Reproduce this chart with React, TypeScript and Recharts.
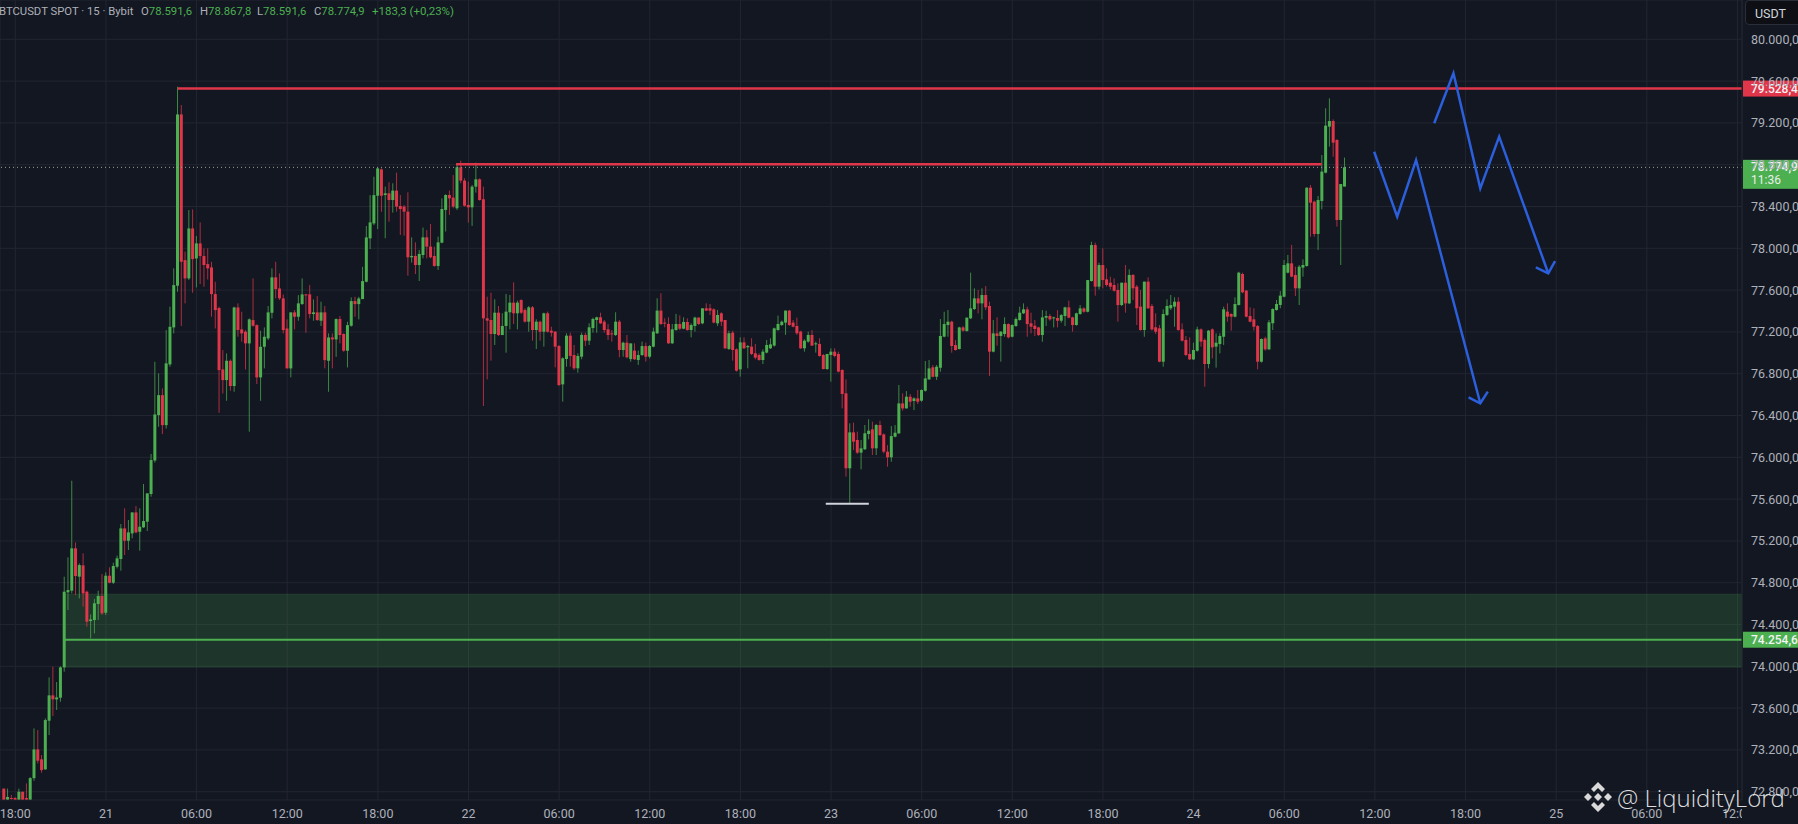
import React from 'react';
import {
  ComposedChart,
  Bar,
  Line,
  XAxis,
  YAxis,
  CartesianGrid,
  ReferenceLine,
  ReferenceArea,
} from 'recharts';

// 15 minute candles as [open, high, low, close]
const day20 = [
  [72830, 72830, 72725, 72725], [72725, 72830, 72725, 72750], [72740, 72770, 72725, 72735], [72740, 72750, 72725, 72725],
  [72725, 72830, 72725, 72800], [72800, 72800, 72725, 72725], [72740, 72880, 72725, 72725], [72725, 72940, 72725, 72930],
  [72930, 73406, 72905, 73205], [73205, 73390, 73071, 73097], [73110, 73151, 72982, 73007], [73014, 73502, 73010, 73486],
  [73480, 73894, 73342, 73722], [73722, 73996, 73524, 73684], [73684, 73850, 73582, 73703], [73700, 74000, 73661, 73990],
  [73990, 74858, 73949, 74714], [74708, 75043, 74539, 74730], [74724, 75776, 74698, 75129], [75129, 75186, 74682, 74864],
  [74858, 74985, 74650, 74969], [74966, 75081, 74571, 74698], [74714, 74724, 74379, 74427], [74433, 74497, 74268, 74449],
  [74443, 74644, 74315, 74603], [74596, 74724, 74443, 74673], [74673, 74883, 74491, 74507],
];

const day21 = [
  [74513, 74899, 74491, 74867], [74867, 74947, 74794, 74800], [74800, 74992, 74788, 74960], [74953, 75059, 74937, 75033],
  [75027, 75362, 74915, 75320], [75320, 75512, 75065, 75202], [75202, 75400, 75113, 75282], [75272, 75473, 75225, 75473],
  [75473, 75534, 75272, 75282], [75288, 75512, 75107, 75336], [75330, 75745, 75325, 75390], [75384, 75655, 75295, 75655],
  [75649, 76032, 75623, 75974], [75970, 76914, 75950, 76410], [76404, 76803, 76292, 76595], [76595, 76659, 76222, 76308],
  [76308, 77217, 76276, 76899], [76889, 77441, 76867, 77249], [77243, 77808, 77186, 77648], [77642, 79546, 77584, 79281],
  [79281, 79371, 77256, 77871], [77887, 77967, 77473, 77712], [77712, 78366, 77696, 78190], [78190, 78372, 77575, 77897],
  [77903, 78117, 77626, 78047], [78047, 78248, 77658, 77926], [77926, 77999, 77632, 77840], [77849, 77999, 77702, 77808],
  [77817, 77871, 77345, 77562], [77562, 77680, 77233, 77409], [77428, 77441, 76426, 76835], [76841, 77026, 76611, 76739],
  [76739, 76994, 76541, 76924], [76924, 76937, 76637, 76682], [76682, 77441, 76627, 77434], [77434, 77473, 77154, 77218],
  [77224, 77393, 77106, 77186], [77202, 77217, 76841, 77090], [77090, 77329, 76245, 77320], [77313, 77712, 77250, 77259],
  [77265, 77272, 76701, 76765], [76765, 77211, 76541, 77058], [77058, 77243, 76851, 77154], [77138, 77447, 77122, 77387],
  [77383, 77808, 77329, 77722], [77722, 77871, 77521, 77610], [77616, 77760, 77505, 77521], [77521, 77559, 77186, 77218],
  [77233, 77320, 76851, 76851], [76851, 77387, 76765, 77387], [77387, 77409, 77224, 77345], [77345, 77552, 77307, 77473],
  [77467, 77712, 77457, 77559], [77559, 77562, 77192, 77550], [77559, 77648, 77329, 77371], [77371, 77511, 77307, 77387],
  [77387, 77543, 77307, 77313], [77307, 77489, 77256, 77387], [77387, 77447, 76851, 76930], [76924, 77186, 76627, 77147],
  [77147, 77186, 76851, 77128], [77128, 77329, 76962, 77323], [77323, 77352, 77090, 77170], [77180, 77186, 77010, 77020],
  [77020, 77297, 76860, 77265], [77259, 77530, 77250, 77495], [77495, 77536, 77345, 77466], [77466, 77536, 77320, 77520],
  [77514, 77823, 77584, 77686], [77680, 78213, 77674, 78104], [78095, 78509, 77993, 78248], [78238, 78685, 78222, 78509],
  [78503, 78774, 78184, 78765], [78755, 78765, 78350, 78503], [78510, 78590, 78096, 78526], [78526, 78632, 78255, 78462],
  [78462, 78622, 78341, 78552], [78552, 78724, 78351, 78399], [78405, 78510, 78128, 78376], [78399, 78415, 78121, 78351],
  [78351, 78536, 77738, 77914], [77914, 78105, 77863, 77927], [77927, 78057, 77754, 77840], [77840, 77984, 77687, 77946],
  [77936, 78198, 77904, 78105], [78105, 78175, 77904, 78016], [78016, 78233, 77904, 77914], [77927, 78016, 77824, 77831],
  [77831, 78112, 77793, 78057], [78054, 78478, 78048, 78376], [78367, 78517, 78160, 78510], [78510, 78552, 78319, 78478],
  [78485, 78702, 78383, 78399], [78383, 78797, 78367, 78775], [78775, 78839, 78622, 78648], [78648, 78670, 78399, 78408],
];

const day22 = [
  [78415, 78638, 78246, 78392], [78392, 78606, 78214, 78590], [78590, 78820, 78533, 78660], [78660, 78670, 78456, 78462],
  [78469, 78590, 76491, 77330], [77330, 77537, 76746, 77308], [77314, 77576, 76925, 77180], [77180, 77512, 77075, 77384],
  [77384, 77448, 77161, 77170], [77170, 77378, 77170, 77257], [77257, 77563, 77001, 77394], [77388, 77553, 77225, 77480],
  [77480, 77675, 77276, 77378], [77378, 77499, 77225, 77480], [77505, 77512, 77371, 77384], [77410, 77426, 77289, 77298],
  [77298, 77448, 77202, 77435], [77435, 77448, 77116, 77218], [77218, 77320, 77037, 77298], [77298, 77308, 77116, 77202],
  [77202, 77384, 77059, 77378], [77378, 77394, 77193, 77202], [77212, 77250, 77155, 77193], [77202, 77209, 76861, 77059],
  [77065, 77075, 76682, 76692], [76698, 76957, 76533, 76947], [76941, 77186, 76867, 77164], [77164, 77193, 76867, 76970],
  [76979, 77075, 76836, 76852], [76852, 76995, 76810, 76970], [76963, 77193, 76938, 77171], [77171, 77193, 77065, 77116],
  [77116, 77282, 77075, 77244], [77237, 77336, 77193, 77324], [77314, 77346, 77193, 77340], [77340, 77384, 77276, 77282],
  [77298, 77314, 77193, 77218], [77225, 77276, 77123, 77170], [77186, 77218, 77107, 77180], [77170, 77388, 77161, 77298],
  [77298, 77314, 76957, 77027], [77027, 77107, 76963, 77097], [77097, 77171, 76947, 76957], [76940, 77090, 76915, 77090],
  [77021, 77091, 76931, 76938], [76931, 77021, 76884, 76979], [76979, 77107, 76970, 77065], [77065, 77097, 76915, 76963],
  [76963, 77075, 76947, 77065], [77059, 77241, 77053, 77203], [77187, 77522, 77180, 77404], [77404, 77569, 77266, 77276],
  [77289, 77330, 77244, 77282], [77276, 77340, 77085, 77091], [77091, 77276, 77085, 77225], [77218, 77372, 77212, 77276],
  [77276, 77359, 77218, 77231], [77231, 77340, 77225, 77295], [77295, 77330, 77212, 77218], [77218, 77282, 77148, 77266],
  [77257, 77346, 77203, 77337], [77337, 77340, 77266, 77276], [77282, 77426, 77273, 77426], [77426, 77474, 77400, 77404],
  [77426, 77467, 77362, 77404], [77416, 77426, 77282, 77289], [77282, 77410, 77257, 77362], [77378, 77388, 77257, 77298],
  [77314, 77314, 77037, 77043], [77037, 77212, 77027, 77187], [77193, 77212, 76925, 77027], [77033, 77043, 76820, 76829],
  [76842, 77148, 76772, 77100], [77100, 77148, 77037, 77043], [77053, 77075, 76852, 77065], [77059, 77139, 76979, 76989],
  [76995, 77085, 76938, 76954], [76979, 76995, 76925, 76931], [76931, 77033, 76893, 77011], [77002, 77123, 76995, 77075],
  [77043, 77139, 77037, 77081], [77069, 77241, 77059, 77234], [77218, 77356, 77212, 77276], [77266, 77308, 77257, 77298],
  [77289, 77404, 77171, 77404], [77404, 77410, 77257, 77266], [77289, 77314, 77244, 77250], [77257, 77337, 77171, 77187],
  [77203, 77212, 77037, 77043], [77043, 77129, 77011, 77116], [77107, 77203, 77097, 77171], [77171, 77218, 77065, 77069],
  [77081, 77107, 77002, 77091], [77085, 77139, 76963, 76970], [76979, 76989, 76842, 76845], [76845, 76989, 76836, 76989],
];

const day23 = [
  [76979, 77043, 76724, 77011], [77011, 77043, 76957, 76970], [76989, 77011, 76813, 76820], [76836, 76842, 76469, 76606],
  [76612, 76746, 75815, 75895], [75895, 76325, 75560, 76239], [76239, 76332, 76070, 76150], [76166, 76246, 76032, 76045],
  [76045, 76166, 75885, 76086], [76077, 76309, 76070, 76230], [76223, 76364, 76172, 76255], [76268, 76341, 76022, 76086],
  [76086, 76319, 76022, 76309], [76309, 76350, 76203, 76213], [76219, 76229, 76038, 76054], [76054, 76117, 75910, 76000],
  [76000, 76299, 75958, 76203], [76197, 76309, 76191, 76235], [76229, 76692, 76225, 76516], [76516, 76612, 76446, 76468],
  [76468, 76634, 76468, 76580], [76580, 76606, 76484, 76532], [76539, 76574, 76452, 76564], [76564, 76644, 76510, 76532],
  [76542, 76650, 76532, 76644], [76637, 76921, 76628, 76755], [76746, 76931, 76740, 76851], [76861, 76883, 76765, 76771],
  [76771, 76883, 76740, 76867], [76857, 77323, 76819, 77161], [77155, 77393, 77148, 77275], [77266, 77409, 77154, 77298],
  [77298, 77307, 77001, 77065], [77074, 77122, 77020, 77027], [77036, 77250, 77033, 77243], [77243, 77256, 77202, 77212],
  [77209, 77339, 77202, 77336], [77330, 77767, 77323, 77425], [77419, 77617, 77409, 77521], [77521, 77601, 77377, 77473],
  [77473, 77617, 77320, 77553], [77553, 77639, 77409, 77435], [77448, 77489, 76778, 77011], [77011, 77314, 77004, 77186],
  [77186, 77339, 77068, 77161], [77161, 77208, 76915, 77202], [77180, 77339, 77154, 77275], [77275, 77282, 77138, 77148],
  [77154, 77272, 77148, 77266], [77256, 77339, 77250, 77323], [77314, 77441, 77307, 77384], [77378, 77473, 77371, 77416],
  [77416, 77441, 77154, 77275], [77282, 77384, 77186, 77250], [77259, 77314, 77161, 77228], [77243, 77250, 77161, 77170],
  [77170, 77409, 77106, 77339], [77336, 77403, 77256, 77352], [77352, 77371, 77307, 77320], [77332, 77345, 77243, 77339],
  [77333, 77409, 77243, 77307], [77307, 77371, 77288, 77361], [77352, 77441, 77256, 77435], [77435, 77499, 77330, 77336],
  [77339, 77345, 77202, 77266], [77266, 77384, 77260, 77378], [77371, 77457, 77365, 77425], [77425, 77435, 77384, 77393],
  [77393, 77696, 77387, 77696], [77687, 78063, 77681, 78031], [78031, 78054, 77547, 77633], [77633, 77862, 77607, 77840],
  [77840, 77999, 77617, 77696], [77703, 77808, 77633, 77649], [77671, 77728, 77607, 77633], [77649, 77712, 77585, 77594],
  [77601, 77665, 77298, 77457], [77457, 77671, 77448, 77671], [77671, 77840, 77384, 77473], [77473, 77799, 77467, 77745],
  [77745, 77754, 77505, 77617], [77633, 77649, 77266, 77426], [77442, 77601, 77212, 77218], [77218, 77681, 77154, 77681],
  [77681, 77722, 77419, 77426], [77448, 77467, 77212, 77224], [77244, 77378, 77180, 77202], [77234, 77266, 76909, 76915],
  [76915, 77416, 76867, 77371], [77362, 77512, 77352, 77448], [77426, 77553, 77409, 77457], [77442, 77531, 77250, 77489],
  [77489, 77531, 77212, 77218], [77224, 77282, 77107, 77116], [77123, 77161, 76969, 76979], [76989, 77148, 76931, 76937],
];

const day24 = [
  [76937, 77097, 76931, 77027], [77020, 77250, 77011, 77224], [77224, 77234, 77059, 77107], [77123, 77138, 76676, 76893],
  [76893, 77218, 76851, 77212], [77224, 77234, 76947, 77052], [77059, 77186, 76858, 77097], [77084, 77186, 76995, 77161],
  [77154, 77441, 77075, 77416], [77394, 77473, 77298, 77346], [77371, 77378, 77212, 77346], [77346, 77531, 77339, 77467],
  [77458, 77776, 77451, 77767], [77754, 77767, 77569, 77579], [77595, 77601, 77339, 77346], [77352, 77435, 77292, 77298],
  [77320, 77426, 77212, 77250], [77256, 77266, 76842, 76915], [76915, 77138, 76906, 77132], [77138, 77154, 77020, 77033],
  [77033, 77314, 77027, 77292], [77283, 77426, 77218, 77419], [77410, 77505, 77403, 77467], [77458, 77591, 77426, 77547],
  [77537, 77888, 77531, 77840], [77767, 77936, 77760, 77856], [77856, 78032, 77722, 77729], [77745, 77824, 77544, 77617],
  [77617, 77840, 77457, 77824], [77815, 77894, 77729, 77840], [77831, 78583, 77824, 78580], [78580, 78606, 78111, 78437],
  [78446, 78456, 78111, 78137], [78137, 78501, 77984, 78462], [78453, 78893, 78373, 78734], [78724, 79340, 78717, 79174],
  [79164, 79435, 78973, 79218], [79218, 79234, 78877, 79011], [79037, 79043, 78207, 78271], [78271, 78615, 77840, 78615],
  [78591, 78868, 78591, 78775],
];

const priceTicks = [
  72800, 73200, 73600, 74000, 74400, 74800, 75200, 75600, 76000, 76400,
  76800, 77200, 77600, 78000, 78400, 78800, 79200, 79600, 80000,
];
// one tick every 24 candles (6 hours)
const timeTicks = [0, 24, 48, 72, 96, 120, 144, 168, 192, 216, 240, 264, 288, 312, 336, 360, 384, 408, 432, 456];
const timeLabels = [
  '18:00', '21', '06:00', '12:00', '18:00', '22', '06:00', '12:00', '18:00', '23',
  '06:00', '12:00', '18:00', '24', '06:00', '12:00', '18:00', '25', '06:00', '12:00',
];

// legend line at the top: letter and value
const ohlc = [
  { key: 'O', value: '78.591,6', width: 59 },
  { key: 'H', value: '78.867,8', width: 57 },
  { key: 'L', value: '78.591,6', width: 57 },
  { key: 'C', value: '78.774,9', width: 58 },
];

// hand drawn projection arrows, x in candles
const arrowOne = [
  { i: 359.8, v: 78924 }, { i: 365.9, v: 78302 }, { i: 370.9, v: 78845 }, { i: 387.9, v: 76517 },
];
const arrowOneHead = [{ i: 384.8, v: 76574 }, { i: 387.9, v: 76517 }, { i: 389.9, v: 76628 }];
const arrowTwo = [
  { i: 375.7, v: 79196 }, { i: 380.8, v: 79675 }, { i: 387.9, v: 78574 }, { i: 392.9, v: 79068 }, { i: 405.9, v: 77761 },
];
const arrowTwoHead = [{ i: 402.6, v: 77818 }, { i: 405.9, v: 77761 }, { i: 407.7, v: 77878 }];

const BG = '#131722';
const GRID = '#222631';
const GREEN = '#4caf50';
const RED = '#e0364a';
const BLUE = '#2b5fdc';
const AXIS_TEXT = '#aeb1ba';
const FONT = 'Roboto, sans-serif';
const PLOT_RIGHT = 1742;

const candles = [...day20, ...day21, ...day22, ...day23, ...day24].map(([o, h, l, c], idx) => ({
  i: idx - 3,
  o,
  c,
  h,
  l,
  range: [l, h],
}));

const formatPrice = (v: number) =>
  v.toLocaleString('de-DE', { minimumFractionDigits: 1, maximumFractionDigits: 1 });

const Candle = (props: any) => {
  const { x, y, width, height, payload } = props;
  const { o, c, h, l } = payload;
  const up = c >= o;
  const color = up ? GREEN : RED;
  const perUnit = height / (h - l);
  const top = y + (h - Math.max(o, c)) * perUnit;
  const bodyH = Math.max(Math.abs(o - c) * perUnit, 1);
  const cx = x + width / 2;
  return (
    <g>
      <line x1={cx} x2={cx} y1={y} y2={y + height} stroke={color} strokeWidth={1} strokeOpacity={0.75} />
      <rect x={cx - 1.5} y={top} width={3} height={bodyH} fill={color} />
    </g>
  );
};

const TimeTick = (props: any) => {
  const { x, payload } = props;
  const label = timeLabels[timeTicks.indexOf(payload.value)];
  return (
    <svg x={0} y={800} width={PLOT_RIGHT} height={24}>
      <text x={x} y={13} textAnchor="middle" dominantBaseline="central" fontFamily={FONT} fontSize={12.5} fill={AXIS_TEXT}>
        {label}
      </text>
    </svg>
  );
};

const PriceTag = (props: any) => {
  const { viewBox, text, sub, color, height } = props;
  const cy = viewBox.y;
  const top = sub ? cy - 7.5 : cy - height / 2;
  return (
    <g>
      <rect x={PLOT_RIGHT + 1} y={top} width={55} height={height} fill={color} />
      <text x={PLOT_RIGHT + 9} y={cy} dominantBaseline="central" fontFamily={FONT} fontSize={12} fontWeight={500} fill="#f2f4f5">
        {text}
      </text>
      {sub && (
        <text x={PLOT_RIGHT + 9} y={cy + 13} dominantBaseline="central" fontFamily={FONT} fontSize={12} fill="#e8efe8">
          {sub}
        </text>
      )}
    </g>
  );
};

const Header = () => (
  <div
    style={{
      position: 'absolute', left: -1, top: 3, whiteSpace: 'pre', fontFamily: FONT, fontSize: 11.3,
      lineHeight: '16px', color: AXIS_TEXT,
    }}
  >
    <span style={{ display: 'inline-block', width: 142 }}>BTCUSDT SPOT · 15 · Bybit</span>
    {ohlc.map((d) => (
      <span key={d.key} style={{ display: 'inline-block', width: d.width }}>
        {d.key}
        <span style={{ color: GREEN }}>{d.value}</span>
      </span>
    ))}
    <span style={{ color: GREEN, fontSize: 11.5 }}>+183,3 (+0,23%)</span>
  </div>
);

const Watermark = () => (
  <div style={{ position: 'absolute', left: 1584, top: 781, height: 32, display: 'flex', alignItems: 'center' }}>
    <svg width={28} height={30} viewBox="0 0 28 30" fill="#d9d9d9">
      <polygon points="14,0 21,7 18,10 14,6 10,10 7,7" />
      <polygon points="14,30 21,23 18,20 14,24 10,20 7,23" />
      <polygon points="4,11 8,15 4,19 0,15" />
      <polygon points="24,11 28,15 24,19 20,15" />
      <polygon points="14,11 18,15 14,19 10,15" />
    </svg>
    <span style={{ marginLeft: 5, fontFamily: '"Open Sans", sans-serif', fontWeight: 300, fontSize: 24, color: '#dedede', whiteSpace: 'pre' }}>
      @ LiquidityLord
    </span>
  </div>
);

const UsdtButton = () => (
  <div
    style={{
      position: 'absolute', left: 1745, top: 0, width: 60, height: 25, boxSizing: 'border-box', background: '#0d0f14',
      border: '1px solid #2a2e39', borderRadius: 4, fontFamily: FONT, fontSize: 12.5, lineHeight: '25px', color: '#d1d4dc',
      paddingLeft: 9,
    }}
  >
    USDT
  </div>
);

export default function App() {
  return (
    <div style={{ position: 'fixed', left: 0, top: 0, width: 1798, height: 824, overflow: 'hidden', background: BG }}>
      <ComposedChart width={1798} height={824} data={candles} margin={{ top: 0, right: 0, bottom: 0, left: 0 }}>
        <CartesianGrid stroke={GRID} strokeWidth={1} />
        <XAxis
          dataKey="i"
          type="number"
          domain={[-4.05, 457.2]}
          allowDataOverflow
          ticks={timeTicks}
          interval={0}
          height={24}
          axisLine={false}
          tickLine={false}
          tick={<TimeTick />}
        />
        <YAxis
          orientation="right"
          type="number"
          domain={[72721, 80376]}
          allowDataOverflow
          ticks={priceTicks}
          interval={0}
          width={56}
          axisLine={{ stroke: '#1e222c' }}
          tickLine={false}
          tickSize={0}
          tickMargin={9}
          tickFormatter={formatPrice}
          tick={{ fontFamily: FONT, fontSize: 12.5, fill: AXIS_TEXT, textAnchor: 'start' }}
        />
        <ReferenceArea x1={13} x2={457.2} y1={73991} y2={74692} fill={GREEN} fillOpacity={0.2} stroke={GREEN} strokeOpacity={0.12} />
        <Bar dataKey="range" barSize={4} shape={<Candle />} isAnimationActive={false} />
        <ReferenceLine
          y={78774.9}
          stroke="#9aa39a"
          strokeDasharray="1 3"
          label={<PriceTag text="78.774,9" sub="11:36" color={GREEN} height={29} />}
        />
        <ReferenceLine
          segment={[{ x: 43, y: 79528.4 }, { x: 457.2, y: 79528.4 }]}
          stroke={RED}
          strokeWidth={2.5}
          label={<PriceTag text="79.528,4" color={RED} height={16} />}
        />
        <ReferenceLine segment={[{ x: 116.7, y: 78804 }, { x: 345.9, y: 78804 }]} stroke={RED} strokeWidth={2.5} />
        <ReferenceLine segment={[{ x: 214.6, y: 75555 }, { x: 226, y: 75555 }]} stroke="#d1d4dc" strokeWidth={2} />
        <ReferenceLine
          segment={[{ x: 13, y: 74254.6 }, { x: 457.2, y: 74254.6 }]}
          stroke={GREEN}
          strokeWidth={2}
          label={<PriceTag text="74.254,6" color={GREEN} height={16} />}
        />
        {[arrowOne, arrowOneHead, arrowTwo, arrowTwoHead].map((points, n) => (
          <Line
            key={n}
            data={points}
            dataKey="v"
            type="linear"
            stroke={BLUE}
            strokeWidth={2.5}
            dot={false}
            activeDot={false}
            isAnimationActive={false}
          />
        ))}
      </ComposedChart>
      <Header />
      <UsdtButton />
      <Watermark />
    </div>
  );
}
